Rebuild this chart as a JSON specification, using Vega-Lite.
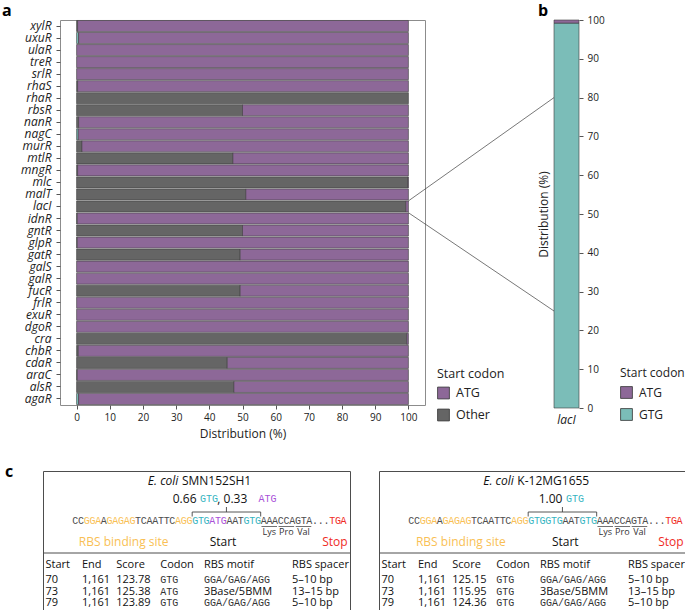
{
"$schema": "https://vega.github.io/schema/vega-lite/v6.json",
"background": "white",
"padding": {"left": 1, "top": 2, "right": 0, "bottom": 0},
"spacing": 451,
"bounds": "flush",
"resolve": {"scale": {"color": "independent"}, "legend": {"color": "independent"}},
"config": {
  "font": "Open Sans",
  "view": {"stroke": null},
  "axis": {"labelFont": "Open Sans", "labelFontSize": 10, "labelColor": "#222", "tickColor": "#555", "tickSize": 4, "domainColor": "#555", "titleFont": "Open Sans", "titleFontSize": 12, "titleFontWeight": "normal", "titleColor": "#222", "grid": false},
  "legend": {"titleFont": "Open Sans", "titleFontSize": 12.5, "titleFontWeight": "normal", "titleColor": "#222", "labelFont": "Open Sans", "labelFontSize": 12.5, "labelColor": "#222", "symbolType": "square", "symbolSize": 140, "symbolStrokeColor": "#333", "symbolStrokeWidth": 0.8, "rowPadding": 5, "labelOffset": 6, "titlePadding": 6, "padding": 0},
  "title": {"font": "Open Sans", "fontSize": 16, "fontWeight": "bold", "anchor": "start", "color": "#000"},
  "text": {"font": "Open Sans"}
},
"datasets": {
  "genes": [
    {"gene":"xylR","codon":"Other","pct":0.3},{"gene":"xylR","codon":"ATG","pct":99.7},
    {"gene":"uxuR","codon":"GTG","pct":0.6},{"gene":"uxuR","codon":"ATG","pct":99.4},
    {"gene":"ulaR","codon":"ATG","pct":100},
    {"gene":"treR","codon":"ATG","pct":100},
    {"gene":"srlR","codon":"ATG","pct":100},
    {"gene":"rhaS","codon":"Other","pct":0.3},{"gene":"rhaS","codon":"ATG","pct":99.7},
    {"gene":"rhaR","codon":"Other","pct":100},
    {"gene":"rbsR","codon":"Other","pct":50},{"gene":"rbsR","codon":"ATG","pct":50},
    {"gene":"nanR","codon":"Other","pct":0.6},{"gene":"nanR","codon":"ATG","pct":99.4},
    {"gene":"nagC","codon":"GTG","pct":0.5},{"gene":"nagC","codon":"ATG","pct":99.5},
    {"gene":"murR","codon":"Other","pct":1.6},{"gene":"murR","codon":"ATG","pct":98.4},
    {"gene":"mtlR","codon":"Other","pct":47.1},{"gene":"mtlR","codon":"ATG","pct":52.9},
    {"gene":"mngR","codon":"Other","pct":0.3},{"gene":"mngR","codon":"ATG","pct":99.7},
    {"gene":"mlc","codon":"Other","pct":99.8},{"gene":"mlc","codon":"ATG","pct":0.2},
    {"gene":"malT","codon":"Other","pct":51},{"gene":"malT","codon":"ATG","pct":49},
    {"gene":"lacI","codon":"Other","pct":99.2},{"gene":"lacI","codon":"ATG","pct":0.8},
    {"gene":"idnR","codon":"Other","pct":0.2},{"gene":"idnR","codon":"ATG","pct":99.8},
    {"gene":"gntR","codon":"Other","pct":50},{"gene":"gntR","codon":"ATG","pct":50},
    {"gene":"glpR","codon":"Other","pct":0.2},{"gene":"glpR","codon":"ATG","pct":99.8},
    {"gene":"gatR","codon":"Other","pct":49.3},{"gene":"gatR","codon":"ATG","pct":50.7},
    {"gene":"galS","codon":"ATG","pct":100},
    {"gene":"galR","codon":"ATG","pct":100},
    {"gene":"fucR","codon":"Other","pct":49.3},{"gene":"fucR","codon":"ATG","pct":50.7},
    {"gene":"frlR","codon":"ATG","pct":100},
    {"gene":"exuR","codon":"ATG","pct":100},
    {"gene":"dgoR","codon":"ATG","pct":100},
    {"gene":"cra","codon":"Other","pct":99.5},{"gene":"cra","codon":"ATG","pct":0.5},
    {"gene":"chbR","codon":"Other","pct":0.5},{"gene":"chbR","codon":"ATG","pct":99.5},
    {"gene":"cdaR","codon":"Other","pct":45.4},{"gene":"cdaR","codon":"ATG","pct":54.6},
    {"gene":"araC","codon":"Other","pct":0.2},{"gene":"araC","codon":"ATG","pct":99.8},
    {"gene":"alsR","codon":"Other","pct":47.4},{"gene":"alsR","codon":"ATG","pct":52.6},
    {"gene":"agaR","codon":"GTG","pct":0.6},{"gene":"agaR","codon":"ATG","pct":99.4}
  ],
  "lacI": [
    {"gene":"lacI","codon":"GTG","pct":99.2},{"gene":"lacI","codon":"ATG","pct":0.8}
  ],
  "zoom": [
    {"x":-5.84,"y":53.3,"x2":0,"y2":80},
    {"x":-5.84,"y":50.4,"x2":0,"y2":25}
  ],
  "seq": [
    {"s":"SMN","i":0,"c":"C","p":"f"},{"s":"SMN","i":1,"c":"C","p":"f"},{"s":"SMN","i":2,"c":"G","p":"r"},{"s":"SMN","i":3,"c":"G","p":"r"},
    {"s":"SMN","i":4,"c":"A","p":"r"},{"s":"SMN","i":5,"c":"A","p":"f"},{"s":"SMN","i":6,"c":"G","p":"r"},{"s":"SMN","i":7,"c":"A","p":"r"},
    {"s":"SMN","i":8,"c":"G","p":"r"},{"s":"SMN","i":9,"c":"A","p":"r"},{"s":"SMN","i":10,"c":"G","p":"r"},{"s":"SMN","i":11,"c":"T","p":"f"},
    {"s":"SMN","i":12,"c":"C","p":"f"},{"s":"SMN","i":13,"c":"A","p":"f"},{"s":"SMN","i":14,"c":"A","p":"f"},{"s":"SMN","i":15,"c":"T","p":"f"},
    {"s":"SMN","i":16,"c":"T","p":"f"},{"s":"SMN","i":17,"c":"C","p":"f"},{"s":"SMN","i":18,"c":"A","p":"r"},{"s":"SMN","i":19,"c":"G","p":"r"},
    {"s":"SMN","i":20,"c":"G","p":"r"},{"s":"SMN","i":21,"c":"G","p":"g"},{"s":"SMN","i":22,"c":"T","p":"g"},{"s":"SMN","i":23,"c":"G","p":"g"},
    {"s":"SMN","i":24,"c":"A","p":"a"},{"s":"SMN","i":25,"c":"T","p":"a"},{"s":"SMN","i":26,"c":"G","p":"a"},{"s":"SMN","i":27,"c":"A","p":"f"},
    {"s":"SMN","i":28,"c":"A","p":"f"},{"s":"SMN","i":29,"c":"T","p":"f"},{"s":"SMN","i":30,"c":"G","p":"g"},{"s":"SMN","i":31,"c":"T","p":"g"},
    {"s":"SMN","i":32,"c":"G","p":"g"},{"s":"SMN","i":33,"c":"A","p":"f"},{"s":"SMN","i":34,"c":"A","p":"f"},{"s":"SMN","i":35,"c":"A","p":"f"},
    {"s":"SMN","i":36,"c":"C","p":"f"},{"s":"SMN","i":37,"c":"C","p":"f"},{"s":"SMN","i":38,"c":"A","p":"f"},{"s":"SMN","i":39,"c":"G","p":"f"},
    {"s":"SMN","i":40,"c":"T","p":"f"},{"s":"SMN","i":41,"c":"A","p":"f"},{"s":"SMN","i":42,"c":".","p":"f"},{"s":"SMN","i":43,"c":".","p":"f"},
    {"s":"SMN","i":44,"c":".","p":"f"},{"s":"SMN","i":45,"c":"T","p":"x"},{"s":"SMN","i":46,"c":"G","p":"x"},{"s":"SMN","i":47,"c":"A","p":"x"},
    {"s":"K12","i":0,"c":"C","p":"f"},{"s":"K12","i":1,"c":"C","p":"f"},{"s":"K12","i":2,"c":"G","p":"r"},{"s":"K12","i":3,"c":"G","p":"r"},
    {"s":"K12","i":4,"c":"A","p":"r"},{"s":"K12","i":5,"c":"A","p":"f"},{"s":"K12","i":6,"c":"G","p":"r"},{"s":"K12","i":7,"c":"A","p":"r"},
    {"s":"K12","i":8,"c":"G","p":"r"},{"s":"K12","i":9,"c":"A","p":"r"},{"s":"K12","i":10,"c":"G","p":"r"},{"s":"K12","i":11,"c":"T","p":"f"},
    {"s":"K12","i":12,"c":"C","p":"f"},{"s":"K12","i":13,"c":"A","p":"f"},{"s":"K12","i":14,"c":"A","p":"f"},{"s":"K12","i":15,"c":"T","p":"f"},
    {"s":"K12","i":16,"c":"T","p":"f"},{"s":"K12","i":17,"c":"C","p":"f"},{"s":"K12","i":18,"c":"A","p":"r"},{"s":"K12","i":19,"c":"G","p":"r"},
    {"s":"K12","i":20,"c":"G","p":"r"},{"s":"K12","i":21,"c":"G","p":"g"},{"s":"K12","i":22,"c":"T","p":"g"},{"s":"K12","i":23,"c":"G","p":"g"},
    {"s":"K12","i":24,"c":"G","p":"g"},{"s":"K12","i":25,"c":"T","p":"g"},{"s":"K12","i":26,"c":"G","p":"g"},{"s":"K12","i":27,"c":"A","p":"f"},
    {"s":"K12","i":28,"c":"A","p":"f"},{"s":"K12","i":29,"c":"T","p":"f"},{"s":"K12","i":30,"c":"G","p":"g"},{"s":"K12","i":31,"c":"T","p":"g"},
    {"s":"K12","i":32,"c":"G","p":"g"},{"s":"K12","i":33,"c":"A","p":"f"},{"s":"K12","i":34,"c":"A","p":"f"},{"s":"K12","i":35,"c":"A","p":"f"},
    {"s":"K12","i":36,"c":"C","p":"f"},{"s":"K12","i":37,"c":"C","p":"f"},{"s":"K12","i":38,"c":"A","p":"f"},{"s":"K12","i":39,"c":"G","p":"f"},
    {"s":"K12","i":40,"c":"T","p":"f"},{"s":"K12","i":41,"c":"A","p":"f"},{"s":"K12","i":42,"c":".","p":"f"},{"s":"K12","i":43,"c":".","p":"f"},
    {"s":"K12","i":44,"c":".","p":"f"},{"s":"K12","i":45,"c":"T","p":"x"},{"s":"K12","i":46,"c":"G","p":"x"},{"s":"K12","i":47,"c":"A","p":"x"}
  ],
  "codons": [
    {"s":"SMN","a":33,"e":36,"aa":"Lys"},{"s":"SMN","a":36,"e":39,"aa":"Pro"},{"s":"SMN","a":39,"e":42,"aa":"Val"},
    {"s":"K12","a":33,"e":36,"aa":"Lys"},{"s":"K12","a":36,"e":39,"aa":"Pro"},{"s":"K12","a":39,"e":42,"aa":"Val"}
  ],
  "brackets": [
    {"s":"SMN","a":21,"e":33,"m":27},{"s":"K12","a":21,"e":33,"m":27}
  ],
  "titles": [
    {"s":"SMN","at":19.2,"sp":"E. coli","st":"SMN152SH1"},
    {"s":"K12","at":19.1,"sp":"E. coli","st":"K-12MG1655"}
  ],
  "ratio": [
    {"s":"SMN","k":"lead","at":21.76,"t":"0.66","p":"k"},
    {"s":"SMN","k":"cod","at":22.37,"t":"GTG","p":"g"},
    {"s":"SMN","k":"mid","at":25.4,"t":", 0.33","p":"k"},
    {"s":"SMN","k":"cod","at":32.6,"t":"ATG","p":"a"},
    {"s":"K12","k":"lead","at":27.0,"t":"1.00","p":"k"},
    {"s":"K12","k":"cod","at":27.62,"t":"GTG","p":"g"}
  ],
  "labels": [
    {"s":"SMN","at":9.0,"t":"RBS binding site","p":"r"},
    {"s":"SMN","at":26.4,"t":"Start","p":"k"},
    {"s":"SMN","at":46.0,"t":"Stop","p":"x"},
    {"s":"K12","at":9.2,"t":"RBS binding site","p":"r"},
    {"s":"K12","at":27.5,"t":"Start","p":"k"},
    {"s":"K12","at":46.0,"t":"Stop","p":"x"}
  ],
  "tlayout": [
    {"line":"hdr","ly":94},{"line":"r1","ly":109},{"line":"r2","ly":120.7},{"line":"r3","ly":132.3}
  ],
  "cols": [
    {"col":"Start","cx":-4.7},{"col":"End","cx":1.7},{"col":"Score","cx":7.7},{"col":"Codon","cx":15.4},{"col":"Motif","cx":23.05},{"col":"Spacer","cx":38.5}
  ],
  "table": [
    {"s":"SMN","line":"hdr","col":"Start","t":"Start","f":"sans"},{"s":"SMN","line":"hdr","col":"End","t":"End","f":"sans"},
    {"s":"SMN","line":"hdr","col":"Score","t":"Score","f":"sans"},{"s":"SMN","line":"hdr","col":"Codon","t":"Codon","f":"sans"},
    {"s":"SMN","line":"hdr","col":"Motif","t":"RBS motif","f":"sans"},{"s":"SMN","line":"hdr","col":"Spacer","t":"RBS spacer","f":"sans"},
    {"s":"SMN","line":"r1","col":"Start","t":"70","f":"sans"},{"s":"SMN","line":"r1","col":"End","t":"1,161","f":"sans"},
    {"s":"SMN","line":"r1","col":"Score","t":"123.78","f":"sans"},{"s":"SMN","line":"r1","col":"Codon","t":"GTG","f":"mono"},
    {"s":"SMN","line":"r1","col":"Motif","t":"GGA/GAG/AGG","f":"mono"},{"s":"SMN","line":"r1","col":"Spacer","t":"5–10 bp","f":"sans"},
    {"s":"SMN","line":"r2","col":"Start","t":"73","f":"sans"},{"s":"SMN","line":"r2","col":"End","t":"1,161","f":"sans"},
    {"s":"SMN","line":"r2","col":"Score","t":"125.38","f":"sans"},{"s":"SMN","line":"r2","col":"Codon","t":"ATG","f":"mono"},
    {"s":"SMN","line":"r2","col":"Motif","t":"3Base/5BMM","f":"sans"},{"s":"SMN","line":"r2","col":"Spacer","t":"13–15 bp","f":"sans"},
    {"s":"SMN","line":"r3","col":"Start","t":"79","f":"sans"},{"s":"SMN","line":"r3","col":"End","t":"1,161","f":"sans"},
    {"s":"SMN","line":"r3","col":"Score","t":"123.89","f":"sans"},{"s":"SMN","line":"r3","col":"Codon","t":"GTG","f":"mono"},
    {"s":"SMN","line":"r3","col":"Motif","t":"GGA/GAG/AGG","f":"mono"},{"s":"SMN","line":"r3","col":"Spacer","t":"5–10 bp","f":"sans"},
    {"s":"K12","line":"hdr","col":"Start","t":"Start","f":"sans"},{"s":"K12","line":"hdr","col":"End","t":"End","f":"sans"},
    {"s":"K12","line":"hdr","col":"Score","t":"Score","f":"sans"},{"s":"K12","line":"hdr","col":"Codon","t":"Codon","f":"sans"},
    {"s":"K12","line":"hdr","col":"Motif","t":"RBS motif","f":"sans"},{"s":"K12","line":"hdr","col":"Spacer","t":"RBS spacer","f":"sans"},
    {"s":"K12","line":"r1","col":"Start","t":"70","f":"sans"},{"s":"K12","line":"r1","col":"End","t":"1,161","f":"sans"},
    {"s":"K12","line":"r1","col":"Score","t":"125.15","f":"sans"},{"s":"K12","line":"r1","col":"Codon","t":"GTG","f":"mono"},
    {"s":"K12","line":"r1","col":"Motif","t":"GGA/GAG/AGG","f":"mono"},{"s":"K12","line":"r1","col":"Spacer","t":"5–10 bp","f":"sans"},
    {"s":"K12","line":"r2","col":"Start","t":"73","f":"sans"},{"s":"K12","line":"r2","col":"End","t":"1,161","f":"sans"},
    {"s":"K12","line":"r2","col":"Score","t":"115.95","f":"sans"},{"s":"K12","line":"r2","col":"Codon","t":"GTG","f":"mono"},
    {"s":"K12","line":"r2","col":"Motif","t":"3Base/5BMM","f":"sans"},{"s":"K12","line":"r2","col":"Spacer","t":"13–15 bp","f":"sans"},
    {"s":"K12","line":"r3","col":"Start","t":"79","f":"sans"},{"s":"K12","line":"r3","col":"End","t":"1,161","f":"sans"},
    {"s":"K12","line":"r3","col":"Score","t":"124.36","f":"sans"},{"s":"K12","line":"r3","col":"Codon","t":"GTG","f":"mono"},
    {"s":"K12","line":"r3","col":"Motif","t":"GGA/GAG/AGG","f":"mono"},{"s":"K12","line":"r3","col":"Spacer","t":"5–10 bp","f":"sans"}
  ]
},
"vconcat": [
 {
  "hconcat": [
  {"width": 17, "height": 10, "data": {"values": []}, "mark": "point"},
  {
    "width": 365, "height": 385,
    "view": {"stroke": "#8c8c8c", "strokeWidth": 1},
    "title": {"text": "a", "frame": "group", "anchor": "start", "dx": -58, "offset": -12, "baseline": "alphabetic"},
    "data": {"name": "genes"},
    "mark": {"type": "bar", "stroke": "#3d3d3d", "strokeWidth": 0.6},
    "encoding": {
      "y": {"field": "gene", "type": "nominal",
            "sort": ["xylR","uxuR","ulaR","treR","srlR","rhaS","rhaR","rbsR","nanR","nagC","murR","mtlR","mngR","mlc","malT","lacI","idnR","gntR","glpR","gatR","galS","galR","fucR","frlR","exuR","dgoR","cra","chbR","cdaR","araC","alsR","agaR"],
            "scale": {"paddingInner": 0.08, "paddingOuter": 0.04},
            "axis": {"title": null, "labelFontStyle": "italic", "labelFontSize": 12, "labelPadding": 5, "domain": false, "tickSize": 4}},
      "x": {"field": "pct", "type": "quantitative", "stack": "zero",
            "scale": {"domain": [-5, 105], "nice": false, "zero": false},
            "axis": {"values": [0,10,20,30,40,50,60,70,80,90,100], "title": "Distribution (%)", "domain": false, "labelPadding": 3, "titlePadding": 6, "labelFlush": false}},
      "color": {"field": "codon", "type": "nominal",
                "scale": {"domain": ["ATG","Other","GTG"], "range": ["#8d6898","#656565","#7bbdb8"]},
                "legend": {"values": ["ATG","Other"], "orient": "none", "legendX": 377, "legendY": 348, "title": "Start codon"}},
      "order": {"field": "codon", "sort": "descending"}
    }
  },
  {"width": 129, "height": 10, "data": {"values": []}, "mark": "point"},
  {
    "width": 25, "height": 388,
    "title": {"text": "b", "frame": "group", "anchor": "start", "dx": -16, "offset": -17, "baseline": "alphabetic"},
    "layer": [
      {
        "data": {"name": "lacI"},
        "mark": {"type": "bar", "stroke": "#3d3d3d", "strokeWidth": 0.6},
        "encoding": {
          "x": {"field": "gene", "type": "nominal", "scale": {"paddingInner": 0, "paddingOuter": 0},
                "axis": {"title": null, "labelAngle": 0, "labelFontStyle": "italic", "labelFontSize": 12, "ticks": false, "domain": false, "labelPadding": 6}},
          "y": {"field": "pct", "type": "quantitative", "stack": "zero", "scale": {"domain": [0, 100], "nice": false},
                "axis": {"orient": "right", "title": null, "values": [0,10,20,30,40,50,60,70,80,90,100], "domain": false, "labelPadding": 4}},
          "color": {"field": "codon", "type": "nominal",
                    "scale": {"domain": ["ATG","GTG"], "range": ["#8d6898","#7bbdb8"]},
                    "legend": {"orient": "none", "legendX": 66, "legendY": 348, "title": "Start codon", "titleFontSize": 12, "labelFontSize": 12}},
          "order": {"field": "codon", "sort": "descending"}
        }
      },
      {
        "data": {"name": "zoom"},
        "mark": {"type": "rule", "color": "#3d3d3d", "strokeWidth": 0.7},
        "encoding": {
          "x": {"field": "x", "type": "quantitative", "scale": {"domain": [0, 1], "nice": false, "zero": false}, "axis": null},
          "x2": {"field": "x2"},
          "y": {"field": "y", "type": "quantitative", "axis": {"orient": "left", "title": "Distribution (%)", "labels": false, "ticks": false, "domain": false, "titlePadding": 4}},
          "y2": {"field": "y2"}
        }
      }
    ],
    "resolve": {"scale": {"x": "independent"}, "axis": {"y": "independent"}}
  }
  ],
  "spacing": 0,
  "bounds": "flush",
  "resolve": {"scale": {"color": "independent"}, "legend": {"color": "independent"}}
 },
 {
  "hconcat": [
  {
    "width": 307, "height": 145,
    "view": {"stroke": "#4d4d4d", "strokeWidth": 1},
    "title": {"text": "c", "frame": "group", "anchor": "start", "dx": -38, "offset": -22, "baseline": "alphabetic"},
    "layer": [
      {"data": {"name": "seq"}, "transform": [{"filter": "datum.s==='SMN'"}],
       "mark": {"type": "text", "font": "Liberation Mono", "fontSize": 10, "align": "left", "baseline": "middle"},
       "encoding": {
         "x": {"field": "i", "type": "quantitative", "scale": {"domain": [0, 48], "range": [29.3, 303.3], "nice": false, "zero": false}, "axis": null},
         "y": {"datum": 50, "type": "quantitative", "scale": {"domain": [0, 145], "range": [0, 145], "nice": false, "zero": false}, "axis": null},
         "text": {"field": "c"},
         "color": {"field": "p", "type": "nominal", "scale": {"domain": ["f","r","g","a","x","k"], "range": ["#4d4d4d","#f9bf55","#35b4c1","#a950d8","#ef2b25","#111111"]}, "legend": null}}},
      {"data": {"name": "brackets"}, "transform": [{"filter": "datum.s==='SMN'"}],
       "mark": {"type": "rule", "color": "#444", "strokeWidth": 0.9},
       "encoding": {"x": {"field": "a", "type": "quantitative", "axis": null}, "x2": {"field": "e"}, "y": {"datum": 41, "type": "quantitative", "axis": null}}},
      {"data": {"name": "brackets"}, "transform": [{"filter": "datum.s==='SMN'"}],
       "mark": {"type": "rule", "color": "#444", "strokeWidth": 0.9},
       "encoding": {"x": {"field": "a", "type": "quantitative", "axis": null}, "y": {"datum": 41, "type": "quantitative", "axis": null}, "y2": {"datum": 45.5}}},
      {"data": {"name": "brackets"}, "transform": [{"filter": "datum.s==='SMN'"}],
       "mark": {"type": "rule", "color": "#444", "strokeWidth": 0.9},
       "encoding": {"x": {"field": "e", "type": "quantitative", "axis": null}, "y": {"datum": 41, "type": "quantitative", "axis": null}, "y2": {"datum": 45.5}}},
      {"data": {"name": "brackets"}, "transform": [{"filter": "datum.s==='SMN'"}],
       "mark": {"type": "rule", "color": "#444", "strokeWidth": 0.9},
       "encoding": {"x": {"field": "m", "type": "quantitative", "axis": null}, "y": {"datum": 36, "type": "quantitative", "axis": null}, "y2": {"datum": 41}}},
      {"data": {"name": "codons"}, "transform": [{"filter": "datum.s==='SMN'"}],
       "mark": {"type": "rule", "color": "#333", "strokeWidth": 0.7, "xOffset": 0.8, "x2Offset": -0.8},
       "encoding": {"x": {"field": "a", "type": "quantitative", "axis": null}, "x2": {"field": "e"}, "y": {"datum": 55.5, "type": "quantitative", "axis": null}}},
      {"data": {"name": "codons"}, "transform": [{"filter": "datum.s==='SMN'"}],
       "mark": {"type": "text", "fontSize": 9, "align": "center", "baseline": "middle", "dx": 8.56, "color": "#333"},
       "encoding": {"x": {"field": "a", "type": "quantitative", "axis": null}, "y": {"datum": 60.5, "type": "quantitative", "axis": null}, "text": {"field": "aa"}}},
      {"data": {"name": "titles"}, "transform": [{"filter": "datum.s==='SMN'"}],
       "mark": {"type": "text", "fontSize": 12, "fontStyle": "italic", "align": "right", "baseline": "middle", "dx": -3.5, "color": "#111"},
       "encoding": {"x": {"field": "at", "type": "quantitative", "axis": null}, "y": {"datum": 9.5, "type": "quantitative", "axis": null}, "text": {"field": "sp"}}},
      {"data": {"name": "titles"}, "transform": [{"filter": "datum.s==='SMN'"}],
       "mark": {"type": "text", "fontSize": 12, "align": "left", "baseline": "middle", "color": "#111"},
       "encoding": {"x": {"field": "at", "type": "quantitative", "axis": null}, "y": {"datum": 9.5, "type": "quantitative", "axis": null}, "text": {"field": "st"}}},
      {"data": {"name": "ratio"}, "transform": [{"filter": "datum.s==='SMN' && datum.k==='lead'"}],
       "mark": {"type": "text", "fontSize": 12, "align": "right", "baseline": "middle", "color": "#111"},
       "encoding": {"x": {"field": "at", "type": "quantitative", "axis": null}, "y": {"datum": 27.5, "type": "quantitative", "axis": null}, "text": {"field": "t"}}},
      {"data": {"name": "ratio"}, "transform": [{"filter": "datum.s==='SMN' && datum.k==='mid'"}],
       "mark": {"type": "text", "fontSize": 12, "align": "left", "baseline": "middle", "color": "#111"},
       "encoding": {"x": {"field": "at", "type": "quantitative", "axis": null}, "y": {"datum": 27.5, "type": "quantitative", "axis": null}, "text": {"field": "t"}}},
      {"data": {"name": "ratio"}, "transform": [{"filter": "datum.s==='SMN' && datum.k==='cod'"}],
       "mark": {"type": "text", "font": "Liberation Mono", "fontSize": 10, "align": "left", "baseline": "middle"},
       "encoding": {"x": {"field": "at", "type": "quantitative", "axis": null}, "y": {"datum": 28, "type": "quantitative", "axis": null}, "text": {"field": "t"}, "color": {"field": "p", "type": "nominal", "legend": null}}},
      {"data": {"name": "labels"}, "transform": [{"filter": "datum.s==='SMN'"}],
       "mark": {"type": "text", "fontSize": 12, "align": "center", "baseline": "middle"},
       "encoding": {"x": {"field": "at", "type": "quantitative", "axis": null}, "y": {"datum": 70.5, "type": "quantitative", "axis": null}, "text": {"field": "t"}, "color": {"field": "p", "type": "nominal", "legend": null}}},
      {"data": {"name": "titles"}, "transform": [{"filter": "datum.s==='SMN'"}],
       "mark": {"type": "rule", "color": "#4d4d4d", "strokeWidth": 1},
       "encoding": {"y": {"datum": 82, "type": "quantitative", "axis": null}}},
      {"data": {"name": "table"}, "transform": [{"filter": "datum.s==='SMN' && datum.f==='sans'"},
         {"lookup": "line", "from": {"data": {"name": "tlayout"}, "key": "line", "fields": ["ly"]}},
         {"lookup": "col", "from": {"data": {"name": "cols"}, "key": "col", "fields": ["cx"]}}],
       "mark": {"type": "text", "fontSize": 11, "align": "left", "baseline": "middle", "color": "#111"},
       "encoding": {"x": {"field": "cx", "type": "quantitative", "axis": null}, "y": {"field": "ly", "type": "quantitative", "axis": null}, "text": {"field": "t"}}},
      {"data": {"name": "table"}, "transform": [{"filter": "datum.s==='SMN' && datum.f==='mono'"},
         {"lookup": "line", "from": {"data": {"name": "tlayout"}, "key": "line", "fields": ["ly"]}},
         {"lookup": "col", "from": {"data": {"name": "cols"}, "key": "col", "fields": ["cx"]}}],
       "mark": {"type": "text", "font": "Liberation Mono", "fontSize": 10, "align": "left", "baseline": "middle", "color": "#333"},
       "encoding": {"x": {"field": "cx", "type": "quantitative", "axis": null}, "y": {"field": "ly", "type": "quantitative", "axis": null}, "text": {"field": "t"}}}
    ]
  },
  {"width": 29, "height": 10, "data": {"values": []}, "mark": "point"},
  {
    "width": 311, "height": 145,
    "view": {"stroke": "#4d4d4d", "strokeWidth": 1},
    "layer": [
      {"data": {"name": "seq"}, "transform": [{"filter": "datum.s==='K12'"}],
       "mark": {"type": "text", "font": "Liberation Mono", "fontSize": 10, "align": "left", "baseline": "middle"},
       "encoding": {
         "x": {"field": "i", "type": "quantitative", "scale": {"domain": [0, 48], "range": [29.3, 303.3], "nice": false, "zero": false}, "axis": null},
         "y": {"datum": 50, "type": "quantitative", "scale": {"domain": [0, 145], "range": [0, 145], "nice": false, "zero": false}, "axis": null},
         "text": {"field": "c"},
         "color": {"field": "p", "type": "nominal", "scale": {"domain": ["f","r","g","a","x","k"], "range": ["#4d4d4d","#f9bf55","#35b4c1","#a950d8","#ef2b25","#111111"]}, "legend": null}}},
      {"data": {"name": "brackets"}, "transform": [{"filter": "datum.s==='K12'"}],
       "mark": {"type": "rule", "color": "#444", "strokeWidth": 0.9},
       "encoding": {"x": {"field": "a", "type": "quantitative", "axis": null}, "x2": {"field": "e"}, "y": {"datum": 41, "type": "quantitative", "axis": null}}},
      {"data": {"name": "brackets"}, "transform": [{"filter": "datum.s==='K12'"}],
       "mark": {"type": "rule", "color": "#444", "strokeWidth": 0.9},
       "encoding": {"x": {"field": "a", "type": "quantitative", "axis": null}, "y": {"datum": 41, "type": "quantitative", "axis": null}, "y2": {"datum": 45.5}}},
      {"data": {"name": "brackets"}, "transform": [{"filter": "datum.s==='K12'"}],
       "mark": {"type": "rule", "color": "#444", "strokeWidth": 0.9},
       "encoding": {"x": {"field": "e", "type": "quantitative", "axis": null}, "y": {"datum": 41, "type": "quantitative", "axis": null}, "y2": {"datum": 45.5}}},
      {"data": {"name": "brackets"}, "transform": [{"filter": "datum.s==='K12'"}],
       "mark": {"type": "rule", "color": "#444", "strokeWidth": 0.9},
       "encoding": {"x": {"field": "m", "type": "quantitative", "axis": null}, "y": {"datum": 36, "type": "quantitative", "axis": null}, "y2": {"datum": 41}}},
      {"data": {"name": "codons"}, "transform": [{"filter": "datum.s==='K12'"}],
       "mark": {"type": "rule", "color": "#333", "strokeWidth": 0.7, "xOffset": 0.8, "x2Offset": -0.8},
       "encoding": {"x": {"field": "a", "type": "quantitative", "axis": null}, "x2": {"field": "e"}, "y": {"datum": 55.5, "type": "quantitative", "axis": null}}},
      {"data": {"name": "codons"}, "transform": [{"filter": "datum.s==='K12'"}],
       "mark": {"type": "text", "fontSize": 9, "align": "center", "baseline": "middle", "dx": 8.56, "color": "#333"},
       "encoding": {"x": {"field": "a", "type": "quantitative", "axis": null}, "y": {"datum": 60.5, "type": "quantitative", "axis": null}, "text": {"field": "aa"}}},
      {"data": {"name": "titles"}, "transform": [{"filter": "datum.s==='K12'"}],
       "mark": {"type": "text", "fontSize": 12, "fontStyle": "italic", "align": "right", "baseline": "middle", "dx": -3.5, "color": "#111"},
       "encoding": {"x": {"field": "at", "type": "quantitative", "axis": null}, "y": {"datum": 9.5, "type": "quantitative", "axis": null}, "text": {"field": "sp"}}},
      {"data": {"name": "titles"}, "transform": [{"filter": "datum.s==='K12'"}],
       "mark": {"type": "text", "fontSize": 12, "align": "left", "baseline": "middle", "color": "#111"},
       "encoding": {"x": {"field": "at", "type": "quantitative", "axis": null}, "y": {"datum": 9.5, "type": "quantitative", "axis": null}, "text": {"field": "st"}}},
      {"data": {"name": "ratio"}, "transform": [{"filter": "datum.s==='K12' && datum.k==='lead'"}],
       "mark": {"type": "text", "fontSize": 12, "align": "right", "baseline": "middle", "color": "#111"},
       "encoding": {"x": {"field": "at", "type": "quantitative", "axis": null}, "y": {"datum": 27.5, "type": "quantitative", "axis": null}, "text": {"field": "t"}}},
      {"data": {"name": "ratio"}, "transform": [{"filter": "datum.s==='K12' && datum.k==='cod'"}],
       "mark": {"type": "text", "font": "Liberation Mono", "fontSize": 10, "align": "left", "baseline": "middle"},
       "encoding": {"x": {"field": "at", "type": "quantitative", "axis": null}, "y": {"datum": 28, "type": "quantitative", "axis": null}, "text": {"field": "t"}, "color": {"field": "p", "type": "nominal", "legend": null}}},
      {"data": {"name": "labels"}, "transform": [{"filter": "datum.s==='K12'"}],
       "mark": {"type": "text", "fontSize": 12, "align": "center", "baseline": "middle"},
       "encoding": {"x": {"field": "at", "type": "quantitative", "axis": null}, "y": {"datum": 70.5, "type": "quantitative", "axis": null}, "text": {"field": "t"}, "color": {"field": "p", "type": "nominal", "legend": null}}},
      {"data": {"name": "titles"}, "transform": [{"filter": "datum.s==='K12'"}],
       "mark": {"type": "rule", "color": "#4d4d4d", "strokeWidth": 1},
       "encoding": {"y": {"datum": 82, "type": "quantitative", "axis": null}}},
      {"data": {"name": "table"}, "transform": [{"filter": "datum.s==='K12' && datum.f==='sans'"},
         {"lookup": "line", "from": {"data": {"name": "tlayout"}, "key": "line", "fields": ["ly"]}},
         {"lookup": "col", "from": {"data": {"name": "cols"}, "key": "col", "fields": ["cx"]}}],
       "mark": {"type": "text", "fontSize": 11, "align": "left", "baseline": "middle", "color": "#111"},
       "encoding": {"x": {"field": "cx", "type": "quantitative", "axis": null}, "y": {"field": "ly", "type": "quantitative", "axis": null}, "text": {"field": "t"}}},
      {"data": {"name": "table"}, "transform": [{"filter": "datum.s==='K12' && datum.f==='mono'"},
         {"lookup": "line", "from": {"data": {"name": "tlayout"}, "key": "line", "fields": ["ly"]}},
         {"lookup": "col", "from": {"data": {"name": "cols"}, "key": "col", "fields": ["cx"]}}],
       "mark": {"type": "text", "font": "Liberation Mono", "fontSize": 10, "align": "left", "baseline": "middle", "color": "#333"},
       "encoding": {"x": {"field": "cx", "type": "quantitative", "axis": null}, "y": {"field": "ly", "type": "quantitative", "axis": null}, "text": {"field": "t"}}}
    ]
  }
  ],
  "spacing": 0,
  "bounds": "flush",
  "resolve": {"scale": {"color": "independent"}, "legend": {"color": "independent"}}
 }
]
}
